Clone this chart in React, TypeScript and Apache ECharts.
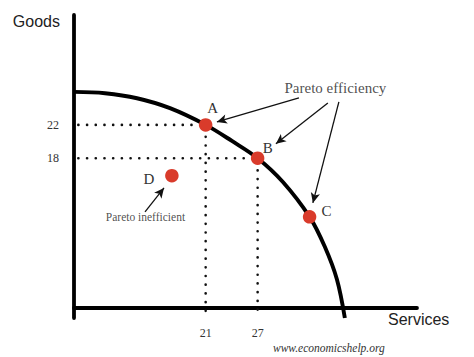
import React, { useEffect, useRef } from 'react';
import * as echarts from 'echarts';

// Production possibility frontier
const curveServices = [5.8, 9.38, 13.07, 16.88, 21, 24.03, 27, 29.92, 33.0, 34.76, 36.15, 37.07];
const curveGoods = [25.96, 25.8, 25.2, 24.01, 22, 20.07, 18, 15.14, 10.95, 7.35, 3.45, -1.2];

// Marked points
const pointNames = ['A', 'B', 'C', 'D'];
const pointServices = [21, 27, 33.0, 17.1];
const pointGoods = [22, 18, 10.95, 15.9];

// Tick labels
const xTicks = [21, 27];
const yTicks = [18, 22];
const xRange = [5.8, 45.4];
const yRange = [-1.2, 35.2];

// Annotations
const noteTexts = ['Pareto efficiency', 'Pareto inefficient'];
const noteServices = [35.98, 14.05];
const noteGoods = [26.44, 10.89];
const arrowFrom = [[31.77, 25.24], [35.11, 24.64], [36.38, 24.76], [14.0, 11.55]];
const arrowTo = [[22.3, 22.36], [29.11, 19.72], [33.38, 12.63], [16.19, 14.43]];

const SERIF = '"Liberation Serif", "DejaVu Serif", serif';
const SANS = '"Liberation Sans", Arial, sans-serif';

const labelOffsets: Record<string, [number, number]> = {
  A: [7, -17],
  B: [10, -10],
  C: [17, -6],
  D: [-23, 3],
};
const noteSizes = [15, 11.5];

export default function App() {
  const ref = useRef<HTMLDivElement>(null);
  useEffect(() => {
    if (!ref.current) return;
    const chart = echarts.init(ref.current, null, { renderer: 'svg' });
    const dotted = { color: '#111', width: 2.6, type: [0.1, 8.6] as any, cap: 'round' as any };
    chart.setOption({
      animation: false,
      backgroundColor: '#fff',
      grid: { left: 74, right: 57, top: 15, bottom: 39 },
      xAxis: {
        type: 'value',
        min: xRange[0],
        max: xRange[1],
        name: 'Services',
        nameLocation: 'end',
        nameGap: -29,
        nameTextStyle: { fontFamily: SANS, fontSize: 16, color: '#222', align: 'left', verticalAlign: 'top', padding: [3, 0, 0, 0] },
        axisLine: { show: true, lineStyle: { color: '#000', width: 3.8 } },
        axisTick: { show: false },
        splitLine: { show: false },
        axisLabel: {
          customValues: xTicks,
          formatter: (v: number) => String(v),
          fontFamily: SERIF,
          fontSize: 12,
          color: '#333',
          margin: 9,
        },
      },
      yAxis: {
        type: 'value',
        min: yRange[0],
        max: yRange[1],
        name: 'Goods',
        nameLocation: 'end',
        nameGap: -6,
        nameTextStyle: { fontFamily: SANS, fontSize: 16, color: '#222', align: 'right', verticalAlign: 'middle', padding: [0, 14, 0, 0] },
        axisLine: { show: true, lineStyle: { color: '#000', width: 3.8 } },
        axisTick: { show: false },
        splitLine: { show: false },
        axisLabel: {
          customValues: yTicks,
          formatter: (v: number) => String(v),
          fontFamily: SERIF,
          fontSize: 12,
          color: '#333',
          margin: 15,
        },
      },
      graphic: [
        {
          type: 'text',
          left: 273,
          top: 342,
          style: { text: 'www.economicshelp.org', font: 'italic 11.5px ' + SERIF, fill: '#333' },
        },
      ],
      series: [
        {
          type: 'line',
          data: [[xRange[0] + 0.5, yTicks[1]], [xTicks[0], yTicks[1]], [xTicks[0], yRange[0]]],
          symbol: 'none',
          lineStyle: dotted,
          silent: true,
          z: 1,
        },
        {
          type: 'line',
          data: [[xRange[0] + 0.5, yTicks[0]], [xTicks[1], yTicks[0]], [xTicks[1], yRange[0]]],
          symbol: 'none',
          lineStyle: dotted,
          silent: true,
          z: 1,
        },
        {
          type: 'line',
          data: curveServices.map((x, i) => [x, curveGoods[i]]),
          symbol: 'none',
          smooth: 0.35,
          lineStyle: { color: '#000', width: 3.9, cap: 'butt' },
          silent: true,
          z: 2,
        },
        {
          type: 'scatter',
          data: pointNames.map((n, i) => ({
            name: n,
            value: [pointServices[i], pointGoods[i]],
            label: { offset: labelOffsets[n] },
          })),
          symbolSize: 13.5,
          itemStyle: { color: '#d93b2b', opacity: 1 },
          label: {
            show: true,
            position: 'inside',
            formatter: (p: any) => p.name,
            fontFamily: SERIF,
            fontSize: 15,
            color: '#333',
            align: 'center',
            verticalAlign: 'middle',
          },
          z: 4,
        },
        {
          type: 'scatter',
          data: noteTexts.map((t, i) => ({
            name: t,
            value: [noteServices[i], noteGoods[i]],
            label: { fontSize: noteSizes[i] },
          })),
          symbolSize: 1,
          itemStyle: { color: 'transparent' },
          label: {
            show: true,
            position: 'inside',
            formatter: (p: any) => p.name,
            fontFamily: SERIF,
            color: '#222',
            align: 'center',
            verticalAlign: 'middle',
          },
          silent: true,
          z: 4,
          markLine: {
            silent: true,
            symbol: ['none', 'arrow'],
            symbolSize: [7, 10],
            label: { show: false },
            lineStyle: { color: '#111', width: 1.3, type: 'solid' },
            data: arrowFrom.map((f, i) => [{ coord: f }, { coord: arrowTo[i] }]),
          },
        },
      ],
    });
    return () => chart.dispose();
  }, []);
  return <div ref={ref} style={{ width: 474, height: 357, position: 'absolute', left: 0, top: 0 }} />;
}
